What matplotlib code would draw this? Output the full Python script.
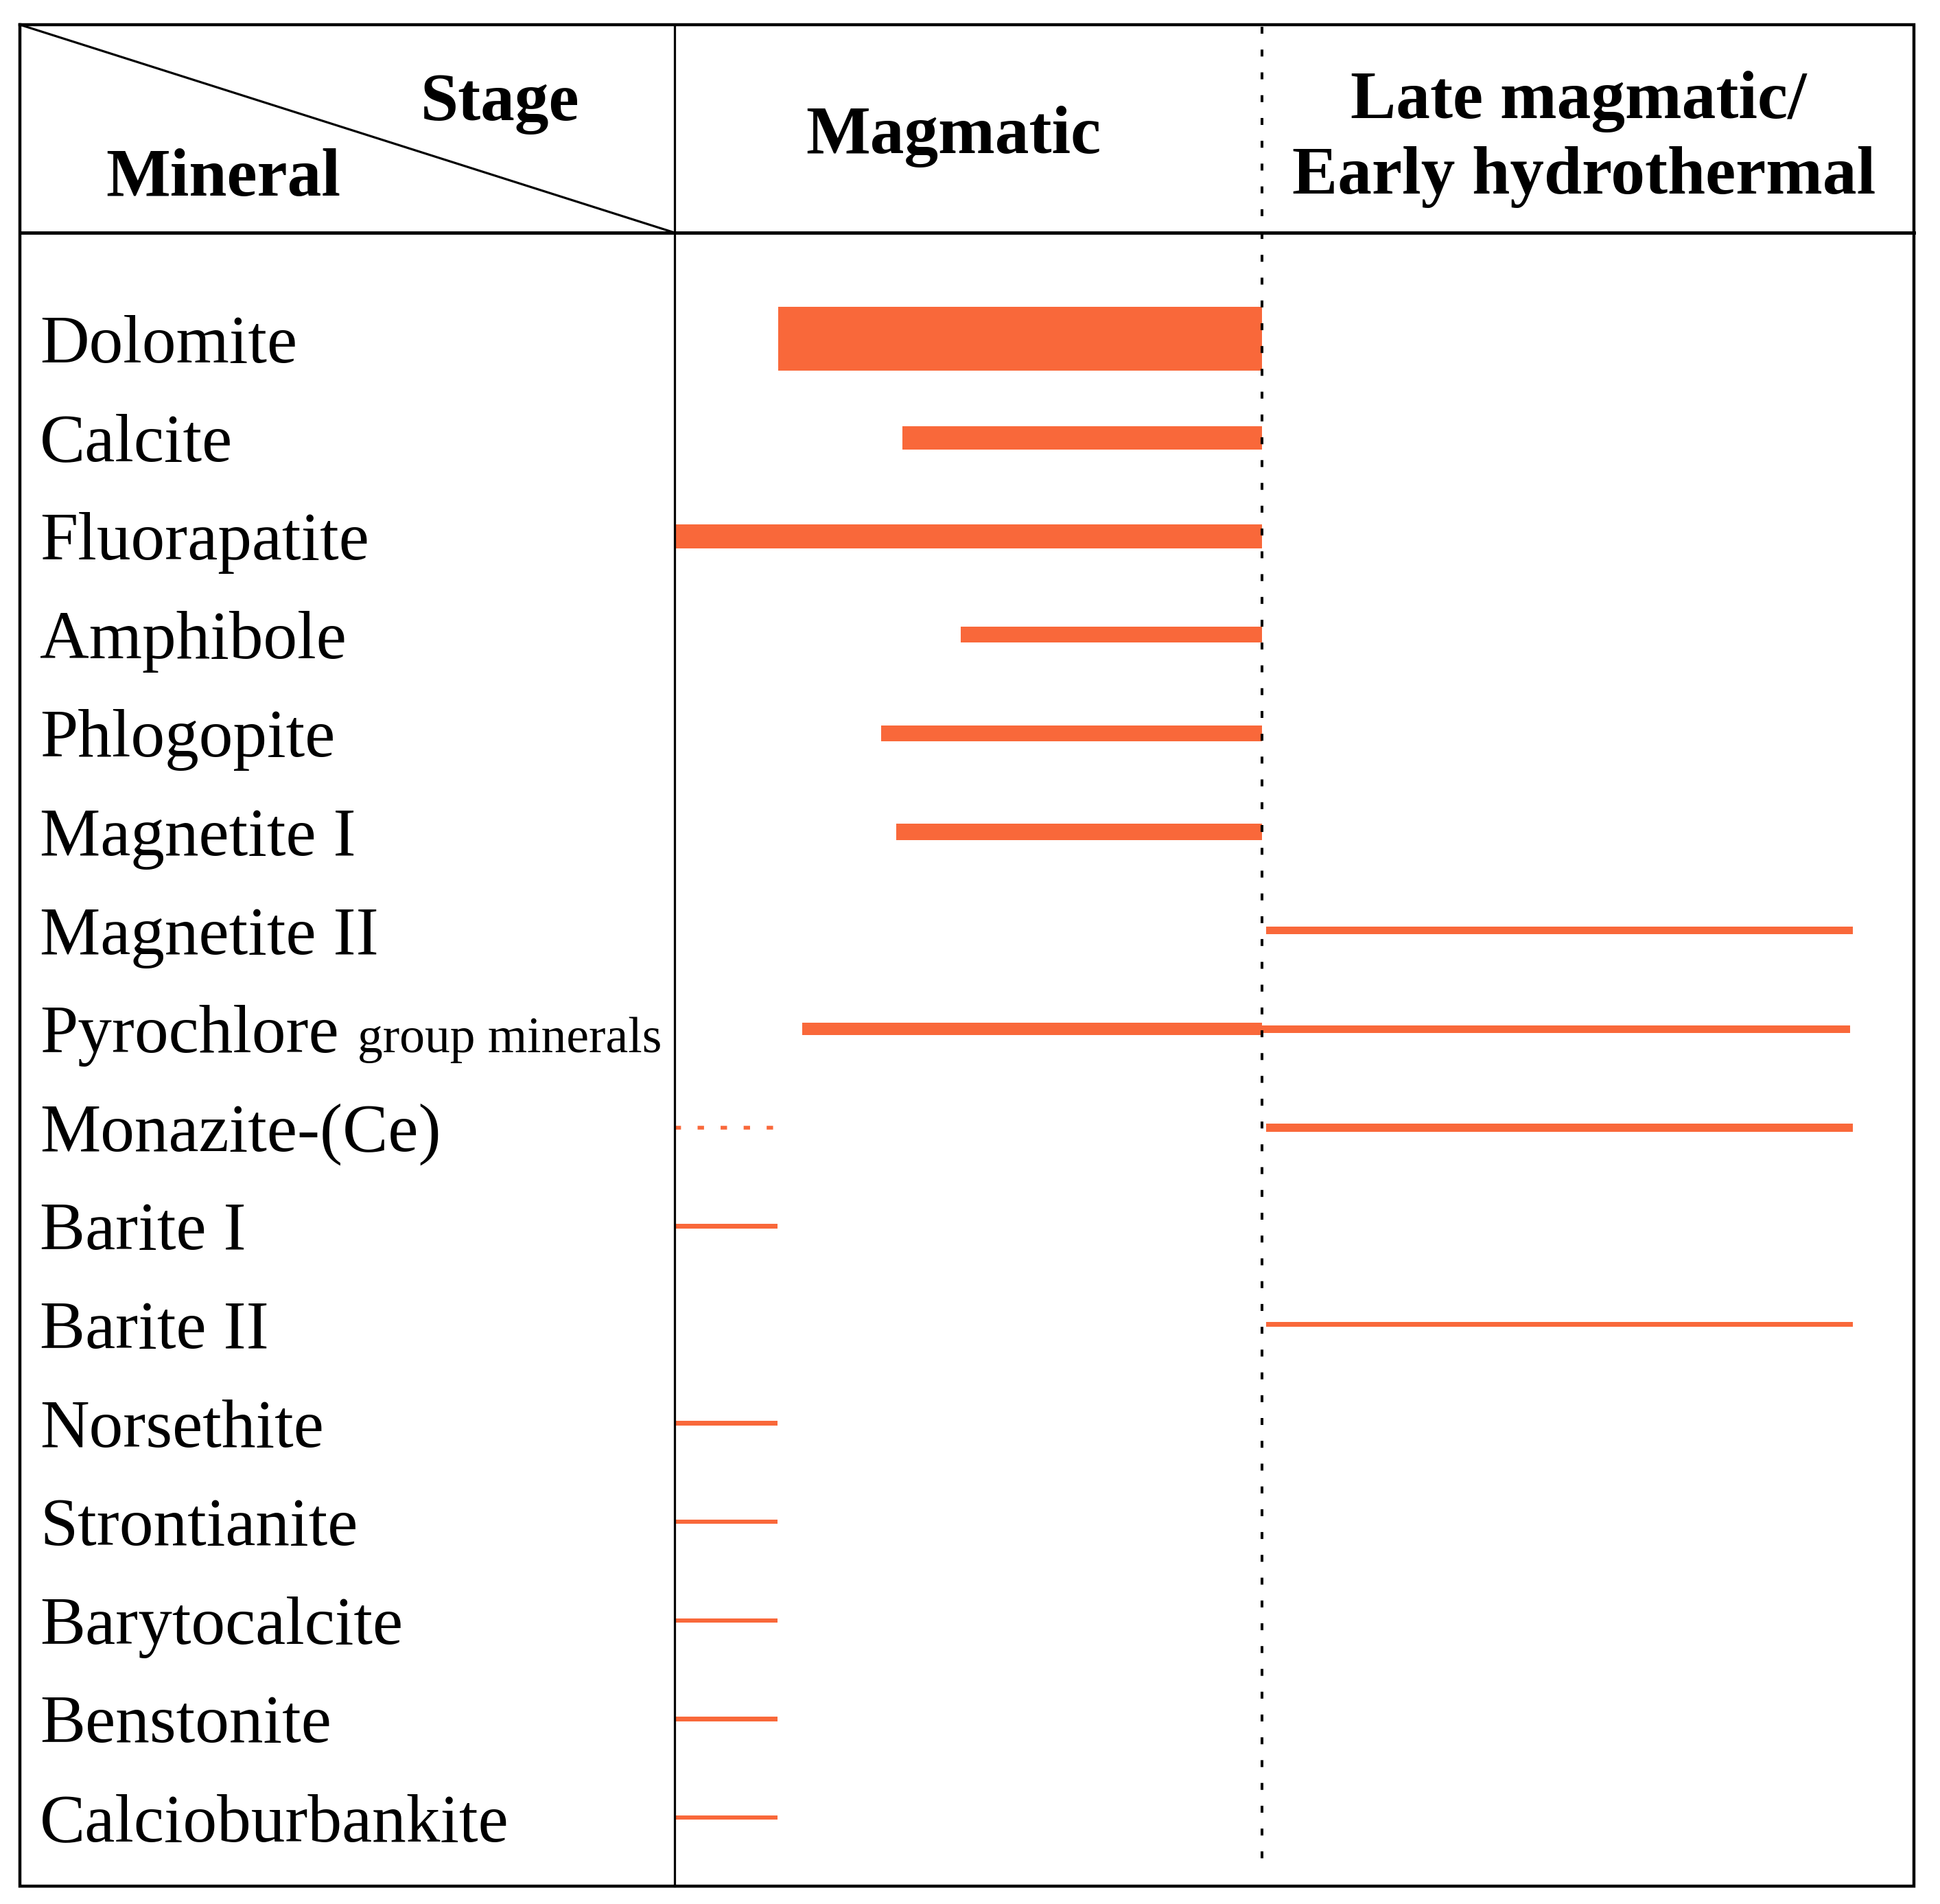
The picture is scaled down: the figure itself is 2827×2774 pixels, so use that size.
import matplotlib
matplotlib.use('Agg')
import matplotlib.pyplot as plt
from matplotlib.transforms import blended_transform_factory

plt.rcParams['font.family'] = ['Liberation Serif', 'DejaVu Serif']

# --- data: stage axis, magmatic = 0..1, late magmatic / early hydrothermal = 1..2 ---
minerals = ['Dolomite', 'Calcite', 'Fluorapatite', 'Amphibole', 'Phlogopite',
            'Magnetite I', 'Magnetite II', 'Pyrochlore', 'Monazite-(Ce)', 'Barite I',
            'Barite II', 'Norsethite', 'Strontianite', 'Barytocalcite', 'Benstonite',
            'Calcioburbankite']
mag_start = [0.176, 0.388, 0.0, 0.487, 0.352, 0.377, None, 0.217, 0.0, 0.0,
             None, 0.0, 0.0, 0.0, 0.0, 0.0]
mag_end = [1.0, 1.0, 1.0, 1.0, 1.0, 1.0, None, 1.0, 0.168, 0.175,
           None, 0.175, 0.175, 0.175, 0.175, 0.175]
late_start = [None, None, None, None, None, None, 1.007, 1.0, 1.007, None,
              1.007, None, None, None, None, None]
late_end = [None, None, None, None, None, None, 2.006, 2.001, 2.006, None,
            2.006, None, None, None, None, None]
uncertain = ['Monazite-(Ce)']  # dotted line in magmatic stage

# bar thickness (pixels at 100 dpi), style only
mag_px = [93, 34, 35, 23, 23, 24, 0, 17.5, 5.5, 6.5, 0, 6.5, 6.5, 6.5, 6.5, 6.5]
late_px = [0, 0, 0, 0, 0, 0, 11, 11, 12, 0, 7, 0, 0, 0, 0, 0]

orange = '#F9683A'
W, H = 2827, 2774
row_px = 143.6

fig = plt.figure(figsize=(W / 100, H / 100), dpi=100)
fig.patch.set_facecolor('white')

# body axes: x from column divider (983 px) to right border (2789 px)
x0, x1, y_top, y_bot = 983, 2789, 339, 2748
ax = fig.add_axes([x0 / W, 1 - y_bot / H, (x1 - x0) / W, (y_bot - y_top) / H])
ax.set_xlim(0, (x1 - x0) / 856)
first_row = -(494 - y_top) / row_px
ax.set_ylim(first_row + (y_bot - y_top) / row_px, first_row)
ax.axis('off')

for i, m in enumerate(minerals):
    if mag_start[i] is not None:
        if m in uncertain:
            ax.plot([mag_start[i], mag_end[i]], [i, i], color=orange,
                    lw=mag_px[i] * 0.72, linestyle=(0, (1.7, 4.4)),
                    solid_capstyle='butt', dash_capstyle='butt')
        else:
            ax.barh(i, mag_end[i] - mag_start[i], left=mag_start[i],
                    height=mag_px[i] / row_px, color=orange, linewidth=0)
    if late_start[i] is not None:
        ax.barh(i, late_end[i] - late_start[i], left=late_start[i],
                height=late_px[i] / row_px, color=orange, linewidth=0)

# overlay in pixel coordinates for the table frame and text
fr = fig.add_axes([0, 0, 1, 1])
fr.set_xlim(0, W)
fr.set_ylim(H, 0)
fr.axis('off')
fr.patch.set_visible(False)

L, R, T, B = 29, 2789, 36, 2748
fr.plot([L, R, R, L, L], [T, T, B, B, T], color='black', lw=3.2, solid_joinstyle='miter')
fr.plot([L, R], [y_top, y_top], color='black', lw=3.5)
fr.plot([L, x0], [T, y_top], color='black', lw=2.3)

# column divider and stage boundary, x in stage units
tr = blended_transform_factory(ax.transData, fr.transData)
fr.plot([0, 0], [T, B], color='black', lw=2.3, transform=tr)
fr.plot([1, 1], [T + 3, B - 25], color='black', lw=2.9, linestyle=(0, (2.5, 5.75)),
        transform=tr)

fs = 71.5
fr.text(729, 175, 'Stage', fontsize=fs, fontweight='bold', ha='center', va='baseline')
fr.text(325, 285, 'Mineral', fontsize=fs, fontweight='bold', ha='center', va='baseline')
fr.text(1389, 223, 'Magmatic', fontsize=fs, fontweight='bold', ha='center', va='baseline')
fr.text(2300, 172, 'Late magmatic/', fontsize=fs, fontweight='bold', ha='center', va='baseline')
fr.text(2308, 282, 'Early hydrothermal', fontsize=fs, fontweight='bold', ha='center',
        va='baseline')

lab_tr = blended_transform_factory(fr.transData, ax.transData)
for i, m in enumerate(minerals):
    fr.text(58, i + 0.237, m, fontsize=fs, ha='left', va='baseline', transform=lab_tr)
    if m == 'Pyrochlore':
        fr.text(521, i + 0.237, 'group minerals', fontsize=53, ha='left', va='baseline',
                transform=lab_tr)

fig.savefig('out.png', dpi=100, facecolor='white')
